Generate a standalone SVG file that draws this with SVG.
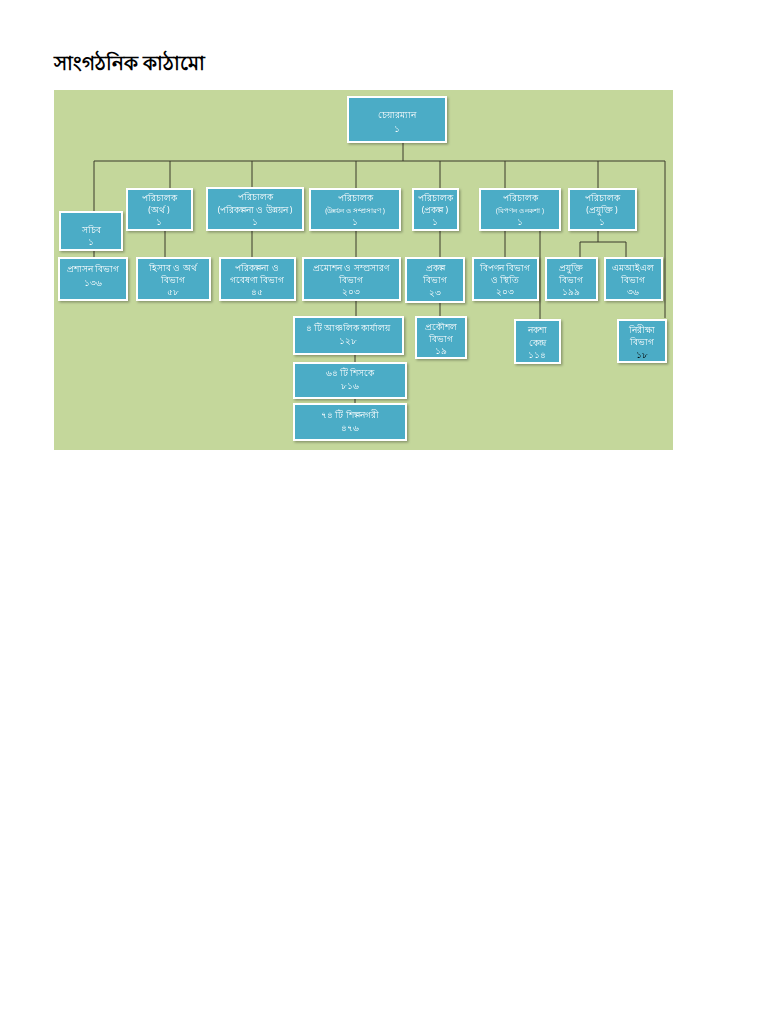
<svg xmlns="http://www.w3.org/2000/svg" width="768" height="1024" viewBox="0 0 768 1024">
<defs><style>
.b{fill:#4bacc6;stroke:#fff;stroke-width:2}
.t{font-family:"Noto Sans","Noto Sans CJK SC",sans-serif;font-size:8.5px;fill:#fff;text-anchor:middle}
.c{stroke:#3a3a2a;stroke-width:1;fill:none}
</style>
<filter id="s" x="-10%" y="-10%" width="130%" height="140%"><feDropShadow dx="1.5" dy="1.5" stdDeviation="1" flood-color="#000" flood-opacity="0.3"/></filter></defs>
<rect width="768" height="1024" fill="#fff"/>
<text x="54" y="70" font-family="Noto Sans, sans-serif" font-size="20" font-weight="bold" fill="#000">সাংগঠনিক কাঠামো</text>
<rect x="54" y="90" width="619" height="360" fill="#c4d79b"/>
<g id="connectors" class="c">
<path d="M403 142V161M94 161H665M94 161V212M170 161V189M252 161V188M356 161V189M440 161V189M505 161V189M598 161V189M665 161V318"/>
<path d="M94 250V258M165 230V258M252 230V258M356 230V317M355 354V363M355 398V404M440 230V317M505 230V258M540 230V320M598 230V242M580 242H626M580 242V258M626 242V258"/>
</g>
<g filter="url(#s)">
<g id="n1"><rect class="b" x="348" y="97" width="98" height="45"/><text class="t" x="397" y="118">চেয়ারম্যান</text><text class="t" x="397" y="132">১</text></g>
<g id="n2"><rect class="b" x="60" y="212" width="62" height="38"/><text class="t" x="91" y="233">সচিব</text><text class="t" x="91" y="245">১</text></g>
<g id="n3"><rect class="b" x="127" y="189" width="65" height="41"/><text class="t" x="159" y="201">পরিচালক</text><text class="t" x="159" y="213">(অর্থ )</text><text class="t" x="159" y="225">১</text></g>
<g id="n4"><rect class="b" x="207" y="188" width="96" height="42"/><text class="t" x="255" y="200">পরিচালক</text><text class="t" x="255" y="213">(পরিকল্পনা ও উন্নয়ন )</text><text class="t" x="255" y="225">১</text></g>
<g id="n5"><rect class="b" x="310" y="189" width="90" height="41"/><text class="t" x="355" y="201">পরিচালক</text><text class="t" x="355" y="213" style="font-size:7px">(উন্নয়ন ও সম্প্রসারণ )</text><text class="t" x="355" y="225">১</text></g>
<g id="n6"><rect class="b" x="413" y="189" width="45" height="41"/><text class="t" x="435" y="201">পরিচালক</text><text class="t" x="435" y="213">(প্রকল্প )</text><text class="t" x="435" y="225">১</text></g>
<g id="n7"><rect class="b" x="480" y="189" width="80" height="41"/><text class="t" x="520" y="201">পরিচালক</text><text class="t" x="520" y="213" style="font-size:6.5px">(বিপণন ও নকশা )</text><text class="t" x="520" y="225">১</text></g>
<g id="n8"><rect class="b" x="569" y="189" width="67" height="41"/><text class="t" x="602" y="201">পরিচালক</text><text class="t" x="602" y="213">(প্রযুক্তি )</text><text class="t" x="602" y="225">১</text></g>
<g id="n9"><rect class="b" x="59" y="258" width="68" height="42"/><text class="t" x="93" y="272">প্রশাসন বিভাগ</text><text class="t" x="93" y="286">১৩৬</text></g>
<g id="n10"><rect class="b" x="137" y="258" width="73" height="42"/><text class="t" x="173" y="271">হিসাব ও অর্থ</text><text class="t" x="173" y="283">বিভাগ</text><text class="t" x="173" y="295">৫৮</text></g>
<g id="n11"><rect class="b" x="220" y="258" width="75" height="42"/><text class="t" x="257" y="271">পরিকল্পনা ও</text><text class="t" x="257" y="283">গবেষণা বিভাগ</text><text class="t" x="257" y="295">৪৫</text></g>
<g id="n12"><rect class="b" x="303" y="258" width="97" height="42"/><text class="t" x="351" y="271">প্রমোশন ও সম্প্রসারণ</text><text class="t" x="351" y="283">বিভাগ</text><text class="t" x="351" y="295">২০৩</text></g>
<g id="n13"><rect class="b" x="406" y="258" width="58" height="44"/><text class="t" x="435" y="271">প্রকল্প</text><text class="t" x="435" y="283">বিভাগ</text><text class="t" x="435" y="296">২৩</text></g>
<g id="n14"><rect class="b" x="473" y="258" width="65" height="42"/><text class="t" x="505" y="271">বিপণন বিভাগ</text><text class="t" x="505" y="283">ও স্থিতি</text><text class="t" x="505" y="295">২০৩</text></g>
<g id="n15"><rect class="b" x="546" y="258" width="51" height="42"/><text class="t" x="571" y="271">প্রযুক্তি</text><text class="t" x="571" y="283">বিভাগ</text><text class="t" x="571" y="295">১৯৯</text></g>
<g id="n16"><rect class="b" x="605" y="258" width="57" height="42"/><text class="t" x="633" y="271">এমআইএল</text><text class="t" x="633" y="283">বিভাগ</text><text class="t" x="633" y="295">৩৬</text></g>
<g id="n17"><rect class="b" x="294" y="317" width="109" height="37"/><text class="t" x="348" y="331">৪ টি আঞ্চলিক কার্যালয়</text><text class="t" x="348" y="344">১২৮</text></g>
<g id="n18"><rect class="b" x="416" y="317" width="50" height="41"/><text class="t" x="441" y="330">প্রকৌশল</text><text class="t" x="441" y="342">বিভাগ</text><text class="t" x="441" y="354">১৯</text></g>
<g id="n19"><rect class="b" x="515" y="320" width="45" height="43"/><text class="t" x="537" y="333">নকশা</text><text class="t" x="537" y="346">কেন্দ্র</text><text class="t" x="537" y="358">১১৪</text></g>
<g id="n20"><rect class="b" x="618" y="320" width="48" height="42"/><text class="t" x="642" y="333">নিরীক্ষা</text><text class="t" x="642" y="345">বিভাগ</text><text class="t" x="642" y="358" style="fill:#000">১৮</text></g>
<g id="n21"><rect class="b" x="294" y="363" width="112" height="35"/><text class="t" x="350" y="376">৬৪ টি শিসকে</text><text class="t" x="350" y="389">৮১৬</text></g>
<g id="n22"><rect class="b" x="294" y="404" width="112" height="36"/><text class="t" x="350" y="418">৭৪ টি শিল্পনগরী</text><text class="t" x="350" y="431">৪৭৬</text></g>
</g>
</svg>
